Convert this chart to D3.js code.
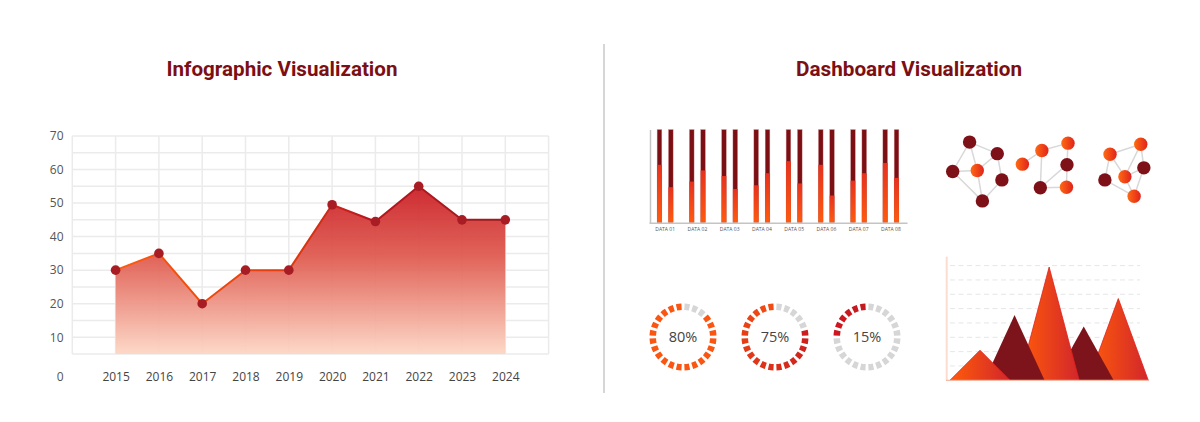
<!DOCTYPE html>
<html>
<head>
<meta charset="utf-8">
<script src="https://cdn.jsdelivr.net/npm/d3@7"></script>
<style>
  body { margin: 0; background: #fff; }
  svg { display: block; }
  text { font-family: "Open Sans", sans-serif; }
</style>
</head>
<body>
<svg id="chart" width="1200" height="422"></svg>
<script>
// ---- data ----
var years = [2015, 2016, 2017, 2018, 2019, 2020, 2021, 2022, 2023, 2024];
var yearValues = [30, 35, 20, 30, 30, 49.5, 44.5, 55, 45, 45];
var yTicks = [0, 10, 20, 30, 40, 50, 60, 70];

var barGroups = ["DATA 01", "DATA 02", "DATA 03", "DATA 04", "DATA 05", "DATA 06", "DATA 07", "DATA 08"];
var barSeriesA = [62, 44, 50, 40, 66, 62, 45, 64];
var barSeriesB = [38, 56, 36, 53, 42, 29, 53, 48];

var donutLabels = ["80%", "75%", "15%"];
var donutFilled = [21, 19, 6];   // lit segments
var donutSegments = 24;

var peakCats = ["P1", "P2", "P3", "P4", "P5"];
var peakValues = [2.1, 4.55, 7.9, 3.75, 5.7];
var peakKinds = ["warm", "dark", "warm", "dark", "warm"];
var peakGrid = [1, 2, 3, 4, 5, 6, 7, 8];

// network nodes in a small grid space
var netNodes = [
    { id: "A", gx: 2.4, gy: 0.2, kind: "dark" },
    { id: "B", gx: 5.1, gy: 1.3, kind: "dark" },
    { id: "C", gx: 0.75, gy: 3.0, kind: "dark" },
    { id: "D", gx: 3.15, gy: 2.9, kind: "warm" },
    { id: "E", gx: 5.55, gy: 3.8, kind: "dark" },
    { id: "F", gx: 3.65, gy: 5.8, kind: "dark" },
    { id: "G", gx: 9.45, gy: 1.0, kind: "warm" },
    { id: "H", gx: 12.0, gy: 0.3, kind: "warm" },
    { id: "I", gx: 7.55, gy: 2.3, kind: "warm" },
    { id: "J", gx: 11.9, gy: 2.35, kind: "dark" },
    { id: "K", gx: 9.3, gy: 4.55, kind: "dark" },
    { id: "L", gx: 11.85, gy: 4.5, kind: "warm" },
    { id: "M", gx: 16.1, gy: 1.35, kind: "warm" },
    { id: "N", gx: 19.1, gy: 0.4, kind: "warm" },
    { id: "O", gx: 19.4, gy: 2.65, kind: "dark" },
    { id: "P", gx: 15.6, gy: 3.8, kind: "dark" },
    { id: "Q", gx: 17.55, gy: 3.5, kind: "warm" },
    { id: "R", gx: 18.45, gy: 5.35, kind: "warm" }
];
var netLinks = [
    ["A", "B"], ["A", "C"], ["A", "D"], ["B", "D"], ["B", "E"], ["C", "D"], ["C", "F"], ["D", "F"], ["E", "F"],
    ["G", "H"], ["G", "I"], ["G", "K"], ["H", "J"], ["J", "K"], ["K", "L"], ["J", "L"],
    ["M", "N"], ["M", "P"], ["M", "Q"], ["N", "Q"], ["N", "O"], ["O", "R"], ["P", "R"], ["Q", "R"], ["Q", "O"]
];

var svg = d3.select("#chart");
var defs = svg.append("defs");

function hGrad(id, c1, c2) {
    var g = defs.append("linearGradient").attr("id", id)
        .attr("x1", 0).attr("y1", 0).attr("x2", 1).attr("y2", 0);
    g.append("stop").attr("offset", "0%").attr("stop-color", c1);
    g.append("stop").attr("offset", "100%").attr("stop-color", c2);
}
hGrad("warmH", "#ff5c0a", "#d2262b");
hGrad("nodeH", "#ff6a12", "#e0231c");

// ---- titles + divider ----
svg.append("text")
    .attr("x", 282).attr("y", 76)
    .attr("text-anchor", "middle")
    .attr("textLength", 231).attr("lengthAdjust", "spacingAndGlyphs")
    .style("font-family", "Roboto, sans-serif").style("font-weight", 700)
    .style("font-size", "20px").style("fill", "#7b0f14")
    .text("Infographic Visualization");

svg.append("text")
    .attr("x", 909).attr("y", 76)
    .attr("text-anchor", "middle")
    .attr("textLength", 226).attr("lengthAdjust", "spacingAndGlyphs")
    .style("font-family", "Roboto, sans-serif").style("font-weight", 700)
    .style("font-size", "20px").style("fill", "#7b0f14")
    .text("Dashboard Visualization");

svg.append("line")
    .attr("x1", 604).attr("x2", 604).attr("y1", 44).attr("y2", 393)
    .attr("stroke", "#c8c8c8").attr("stroke-width", 1.5);

// ---- main area chart ----
(function() {
    var x = d3.scaleLinear().domain([2014, 2025]).range([72.3, 548.6]);
    var y = d3.scaleLinear().domain([5, 70]).range([354, 136]);
    var g = svg.append("g");

    // area gradient (vertical) and line gradient (horizontal)
    var ag = defs.append("linearGradient").attr("id", "areaGrad")
        .attr("gradientUnits", "userSpaceOnUse")
        .attr("x1", 0).attr("x2", 0).attr("y1", y(57)).attr("y2", y(5));
    ag.append("stop").attr("offset", "0%").attr("stop-color", "#c8161f");
    ag.append("stop").attr("offset", "45%").attr("stop-color", "#df5a4e");
    ag.append("stop").attr("offset", "100%").attr("stop-color", "#fdd6c4");

    var lg = defs.append("linearGradient").attr("id", "lineGrad")
        .attr("gradientUnits", "userSpaceOnUse")
        .attr("x1", x(2015)).attr("x2", x(2024)).attr("y1", 0).attr("y2", 0);
    lg.append("stop").attr("offset", "0%").attr("stop-color", "#ff5a0c");
    lg.append("stop").attr("offset", "45%").attr("stop-color", "#e23a0e");
    lg.append("stop").attr("offset", "65%").attr("stop-color", "#b8161e");
    lg.append("stop").attr("offset", "100%").attr("stop-color", "#9c1a1f");

    // grid
    g.selectAll(".hgrid")
        .data(d3.range(5, 71, 5))
        .join("line")
            .attr("x1", x(2014)).attr("x2", x(2025))
            .attr("y1", d => y(d)).attr("y2", d => y(d))
            .attr("stroke", "#ebebeb").attr("stroke-width", 1.5);
    g.selectAll(".vgrid")
        .data(d3.range(2014, 2026))
        .join("line")
            .attr("x1", d => x(d)).attr("x2", d => x(d))
            .attr("y1", y(70)).attr("y2", y(5))
            .attr("stroke", "#ebebeb").attr("stroke-width", 1.5);

    var pts = years.map((yr, i) => [yr, yearValues[i]]);

    var area = d3.area()
        .x(d => x(d[0]))
        .y0(y(5))
        .y1(d => y(d[1]));
    g.append("path")
        .datum(pts)
        .attr("d", area)
        .attr("fill", "url(#areaGrad)")
        .attr("opacity", 0.93);

    var line = d3.line()
        .x(d => x(d[0]))
        .y(d => y(d[1]));
    g.append("path")
        .datum(pts)
        .attr("d", line)
        .attr("fill", "none")
        .attr("stroke", "url(#lineGrad)")
        .attr("stroke-width", 2);

    g.selectAll(".dot")
        .data(pts)
        .join("circle")
            .attr("cx", d => x(d[0]))
            .attr("cy", d => y(d[1]))
            .attr("r", 4.8)
            .attr("fill", "#a81c24");

    // y labels, the 0 sits on the year row
    g.selectAll(".ylab")
        .data(yTicks)
        .join("text")
            .attr("x", 63.5)
            .attr("y", d => d === 0 ? y(d) + 6 : y(d))
            .attr("dy", "0.36em")
            .attr("text-anchor", "end")
            .style("font-size", "12px")
            .style("fill", "#555")
            .text(d => d);

    // year axis
    var xAxis = g.append("g")
        .attr("transform", "translate(0," + y(5) + ")")
        .call(d3.axisBottom(x).tickValues(years).tickFormat(d3.format("d")).tickSize(0).tickPadding(18));
    xAxis.select(".domain").remove();
    xAxis.selectAll("text")
        .style("font-family", "'Open Sans', sans-serif")
        .style("font-size", "12px")
        .style("fill", "#444");
})();

// ---- stacked bars (top left of dashboard) ----
(function() {
    var xb = d3.scaleBand().domain(barGroups).range([649, 907]);
    var xs = d3.scaleBand().domain(["a", "b"])
        .range([xb.bandwidth() / 2 - 11.3, xb.bandwidth() / 2 + 11.3])
        .paddingInner(0.58).paddingOuter(0.29);
    var yb = d3.scaleLinear().domain([0, 100]).range([222.5, 129.5]);

    var vg = defs.append("linearGradient").attr("id", "barGrad")
        .attr("x1", 0).attr("y1", 0).attr("x2", 0).attr("y2", 1);
    vg.append("stop").attr("offset", "0%").attr("stop-color", "#e5321e");
    vg.append("stop").attr("offset", "100%").attr("stop-color", "#ff5a0e");

    var g = svg.append("g");
    var rows = [];
    barGroups.forEach(function(grp, i) {
        rows.push({ grp: grp, key: "a", v: barSeriesA[i] });
        rows.push({ grp: grp, key: "b", v: barSeriesB[i] });
    });

    g.selectAll(".bg")
        .data(rows)
        .join("rect")
            .attr("x", d => xb(d.grp) + xs(d.key))
            .attr("y", yb(100))
            .attr("width", xs.bandwidth())
            .attr("height", yb(0) - yb(100))
            .attr("fill", "#7c0f14")
            .attr("stroke", "#d9a8a8").attr("stroke-width", 0.4);
    g.selectAll(".fg")
        .data(rows)
        .join("rect")
            .attr("x", d => xb(d.grp) + xs(d.key))
            .attr("y", d => yb(d.v))
            .attr("width", xs.bandwidth())
            .attr("height", d => yb(0) - yb(d.v))
            .attr("fill", "url(#barGrad)");

    var ax = g.append("g")
        .attr("transform", "translate(650,0)")
        .call(d3.axisLeft(yb).tickValues([]).tickSizeOuter(0));
    ax.select(".domain").attr("stroke", "#c4c4c4").attr("stroke-width", 1.5);

    var bx = g.append("g")
        .attr("transform", "translate(0," + (yb(0) + 0.3) + ")")
        .call(d3.axisBottom(xb).tickSize(0).tickPadding(4.5));
    bx.select(".domain").attr("stroke", "#c4c4c4").attr("stroke-width", 1.5);
    bx.selectAll("text")
        .style("font-family", "'Open Sans', sans-serif")
        .style("font-size", "5px")
        .style("fill", "#555");
})();

// ---- network graphs (top right) ----
(function() {
    var nx = d3.scaleLinear().domain([0, 20]).range([945, 1150]);
    var ny = d3.scaleLinear().domain([0, 6]).range([140, 203]);
    var byId = {};
    netNodes.forEach(n => byId[n.id] = n);
    var g = svg.append("g");

    g.selectAll(".link")
        .data(netLinks)
        .join("line")
            .attr("x1", d => nx(byId[d[0]].gx)).attr("y1", d => ny(byId[d[0]].gy))
            .attr("x2", d => nx(byId[d[1]].gx)).attr("y2", d => ny(byId[d[1]].gy))
            .attr("stroke", "#d8d8d8").attr("stroke-width", 1.5);

    g.selectAll(".node")
        .data(netNodes)
        .join("circle")
            .attr("cx", d => nx(d.gx))
            .attr("cy", d => ny(d.gy))
            .attr("r", 6.7)
            .attr("fill", d => d.kind === "warm" ? "url(#nodeH)" : "#7e1118");
})();

// ---- segmented donuts (bottom left) ----
(function() {
    var xd = d3.scalePoint().domain(donutLabels).range([683, 867]);
    var step = 2 * Math.PI / donutSegments;
    var gap = step * 0.36;
    var arc = d3.arc().innerRadius(27).outerRadius(33.5);
    var colours = [
        () => "#fb5512",
        i => d3.interpolateRgb("#f24c12", "#cc1e1e")(i / 18),
        i => d3.interpolateRgb("#c41a20", "#d0161e")(i / 5)
    ];

    donutLabels.forEach(function(lab, k) {
        var g = svg.append("g").attr("transform", "translate(" + xd(lab) + ",337)");
        // index 0 sits just left of top, counting counterclockwise
        var segs = d3.range(donutSegments).map(i => ({
            i: i,
            lit: i < donutFilled[k],
            start: -(i + 1) * step + gap / 2,
            end: -i * step - gap / 2
        }));
        g.selectAll("path")
            .data(segs)
            .join("path")
                .attr("d", d => arc({ startAngle: d.start, endAngle: d.end }))
                .attr("fill", d => d.lit ? colours[k](d.i) : "#d6d6d6");
        g.append("text")
            .attr("text-anchor", "middle")
            .attr("dy", "0.36em")
            .style("font-size", "14.5px")
            .style("fill", "#444")
            .text(lab);
    });
})();

// ---- peak chart (bottom right) ----
(function() {
    var xp = d3.scalePoint().domain(peakCats).range([980, 1118.3]);
    var yp = d3.scaleLinear().domain([0, 8]).range([380.3, 265.6]);
    var hw = xp.step() * 0.867;
    var g = svg.append("g");

    g.selectAll(".pgrid")
        .data(peakGrid)
        .join("line")
            .attr("x1", 950).attr("x2", 1140)
            .attr("y1", d => yp(d)).attr("y2", d => yp(d))
            .attr("stroke", "#e6e6e6").attr("stroke-width", 1)
            .attr("stroke-dasharray", "5,3.5");

    g.append("line")
        .attr("x1", 946.7).attr("x2", 946.7)
        .attr("y1", 256.7).attr("y2", yp(0))
        .attr("stroke", "#fcdccf").attr("stroke-width", 2);

    var tri = peakCats.map((c, i) => ({ c: c, v: peakValues[i], kind: peakKinds[i] })).reverse();
    g.selectAll(".peak")
        .data(tri)
        .join("path")
            .attr("d", d => "M" + (xp(d.c) - hw) + "," + yp(0) +
                "L" + xp(d.c) + "," + yp(d.v) +
                "L" + (xp(d.c) + hw) + "," + yp(0) + "Z")
            .attr("fill", d => d.kind === "warm" ? "url(#warmH)" : "#7e141b")
            .attr("stroke", d => d.kind === "warm" ? "#e3201b" : "none")
            .attr("stroke-width", 0.8);

    g.append("line")
        .attr("x1", 946).attr("x2", 1148.5)
        .attr("y1", yp(0)).attr("y2", yp(0))
        .attr("stroke", "#f2b9a6").attr("stroke-width", 1.2);
})();
</script>
</body>
</html>
